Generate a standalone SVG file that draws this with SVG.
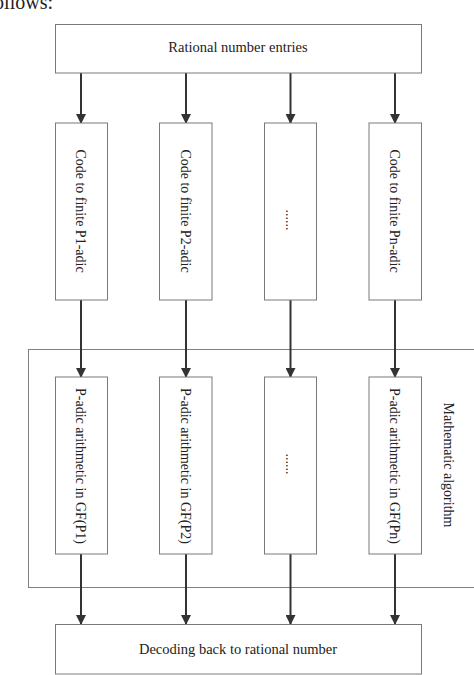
<svg xmlns="http://www.w3.org/2000/svg" width="474" height="675" viewBox="0 0 474 675">
<defs>
<style>
.box{fill:#fff;stroke:#7a7a7a;stroke-width:1}
.frame{fill:none;stroke:#808080;stroke-width:1}
.t{font-family:"Liberation Serif","Times New Roman",serif;font-size:14px;fill:#222}
.c{stroke:#333;stroke-width:2;fill:none;marker-end:url(#ah)}
</style>
<marker id="ah" viewBox="0 0 10 10" refX="9" refY="5" markerWidth="5" markerHeight="5" markerUnits="strokeWidth" orient="auto">
<path d="M0,0 L10,5 L0,10 z" fill="#333"/>
</marker>
</defs>
<rect width="474" height="675" fill="#fff"/>
<text class="t" x="53" y="9" text-anchor="end" style="font-size:20px">follows:</text>
<g id="frame-math">
<rect class="frame" x="28.5" y="349.5" width="460" height="238"/>
<text class="t" transform="translate(449,465) rotate(90)" text-anchor="middle" dy="0.35em">Mathematic algorithm</text>
</g>
<g id="connectors">
<line class="c" x1="81" y1="73" x2="81" y2="123"/>
<line class="c" x1="186" y1="73" x2="186" y2="123"/>
<line class="c" x1="290.5" y1="73" x2="290.5" y2="123"/>
<line class="c" x1="395" y1="73" x2="395" y2="123"/>
<line class="c" x1="81" y1="300" x2="81" y2="377"/>
<line class="c" x1="186" y1="300" x2="186" y2="377"/>
<line class="c" x1="290.5" y1="300" x2="290.5" y2="377"/>
<line class="c" x1="395" y1="300" x2="395" y2="377"/>
<line class="c" x1="81" y1="554" x2="81" y2="624"/>
<line class="c" x1="186" y1="554" x2="186" y2="624"/>
<line class="c" x1="290.5" y1="554" x2="290.5" y2="624"/>
<line class="c" x1="395" y1="554" x2="395" y2="624"/>
</g>
<g id="entries">
<rect class="box" x="55.5" y="24.5" width="366" height="48.5"/>
<text class="t" x="238" y="52" text-anchor="middle" style="font-size:14.5px">Rational number entries</text>
</g>
<g id="code-p1">
<rect class="box" x="55.5" y="123" width="52" height="177"/>
<text class="t" transform="translate(81,211) rotate(90)" text-anchor="middle" dy="0.35em">Code to finite P1-adic</text>
</g>
<g id="code-p2">
<rect class="box" x="159.5" y="123" width="52.5" height="177"/>
<text class="t" transform="translate(186,211) rotate(90)" text-anchor="middle" dy="0.35em">Code to finite P2-adic</text>
</g>
<g id="code-dots">
<rect class="box" x="264.5" y="123" width="52" height="177"/>
<text class="t" transform="translate(290.5,220) rotate(90)" text-anchor="middle" dy="0.35em">......</text>
</g>
<g id="code-pn">
<rect class="box" x="369" y="123" width="52.5" height="177"/>
<text class="t" transform="translate(395,211) rotate(90)" text-anchor="middle" dy="0.35em">Code to finite Pn-adic</text>
</g>
<g id="arith-p1">
<rect class="box" x="55.5" y="377" width="52" height="177"/>
<text class="t" transform="translate(81,466) rotate(90)" text-anchor="middle" dy="0.35em">P-adic arithmetic in GF(P1)</text>
</g>
<g id="arith-p2">
<rect class="box" x="159.5" y="377" width="52.5" height="177"/>
<text class="t" transform="translate(186,466) rotate(90)" text-anchor="middle" dy="0.35em">P-adic arithmetic in GF(P2)</text>
</g>
<g id="arith-dots">
<rect class="box" x="264.5" y="377" width="52" height="177"/>
<text class="t" transform="translate(290.5,464) rotate(90)" text-anchor="middle" dy="0.35em">......</text>
</g>
<g id="arith-pn">
<rect class="box" x="369" y="377" width="52.5" height="177"/>
<text class="t" transform="translate(395,466) rotate(90)" text-anchor="middle" dy="0.35em">P-adic arithmetic in GF(Pn)</text>
</g>
<g id="decoding">
<rect class="box" x="55.5" y="624.5" width="366" height="49.5"/>
<text class="t" x="238" y="654" text-anchor="middle" style="font-size:14.5px">Decoding back to rational number</text>
</g>
</svg>
